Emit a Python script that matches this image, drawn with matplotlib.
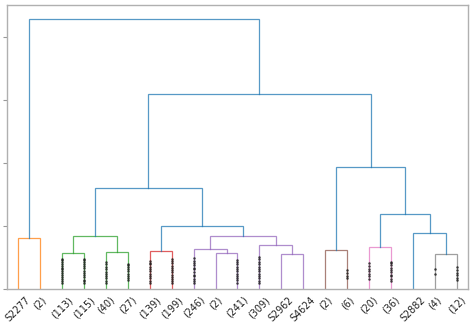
import matplotlib
matplotlib.use("Agg")
import matplotlib.pyplot as plt

# Leaf labels, left to right (singletons by id, truncated clusters by size)
leaf_labels = ["S2277", "(2)", "(113)", "(115)", "(40)", "(27)", "(139)", "(199)",
               "(246)", "(2)", "(241)", "(309)", "S2962", "S4624", "(2)", "(6)",
               "(20)", "(36)", "S2882", "(4)", "(12)"]

# Merges: ids 21.. in order; children refer to leaf index or earlier merge id
merge_left = [0, 2, 4, 22, 6, 9, 8, 12, 11, 27, 25, 24, 14, 16, 19, 18, 34, 33, 32, 21]
merge_right = [1, 3, 5, 23, 7, 10, 26, 13, 28, 29, 30, 31, 15, 17, 20, 35, 36, 37, 38, 39]
merge_height = [0.81, 0.57, 0.59, 0.84, 0.60, 0.57, 0.63, 0.55, 0.70, 0.84,
                1.00, 1.60, 0.62, 0.67, 0.56, 0.89, 1.19, 1.94, 3.10, 4.29]
merge_color = ["C1", "C2", "C2", "C2", "C3", "C4", "C4", "C4", "C4", "C4",
               "C0", "C0", "C5", "C6", "C7", "C0", "C0", "C0", "C0", "C0"]

# Heights of merges hidden inside each truncated leaf
contracted = {
    2: [0.10, 0.13, 0.16, 0.19, 0.22, 0.25, 0.28, 0.31, 0.34, 0.37, 0.40, 0.43, 0.46, 0.48],
    3: [0.10, 0.12, 0.15, 0.19, 0.22, 0.26, 0.29, 0.33, 0.36, 0.40, 0.43, 0.46, 0.48],
    4: [0.10, 0.13, 0.17, 0.20, 0.24, 0.27, 0.31, 0.35, 0.39, 0.43],
    5: [0.14, 0.17, 0.21, 0.24, 0.28, 0.31, 0.35, 0.38, 0.40],
    6: [0.10, 0.13, 0.17, 0.20, 0.24, 0.28, 0.32, 0.35, 0.39, 0.42, 0.44],
    7: [0.10, 0.12, 0.16, 0.19, 0.23, 0.27, 0.30, 0.34, 0.37, 0.41, 0.45, 0.48],
    8: [0.10, 0.13, 0.16, 0.20, 0.23, 0.27, 0.31, 0.34, 0.38, 0.42, 0.45, 0.49],
    10: [0.10, 0.14, 0.17, 0.21, 0.24, 0.28, 0.32, 0.35, 0.39, 0.43, 0.46],
    11: [0.10, 0.13, 0.17, 0.20, 0.24, 0.28, 0.31, 0.35, 0.39, 0.43, 0.47, 0.51],
    15: [0.17, 0.21, 0.25, 0.30],
    16: [0.16, 0.20, 0.24, 0.28, 0.32, 0.36, 0.41],
    17: [0.13, 0.16, 0.20, 0.23, 0.27, 0.30, 0.34, 0.38, 0.41, 0.43],
    19: [0.24, 0.32],
    20: [0.14, 0.18, 0.22, 0.26, 0.30, 0.35],
}

fig = plt.figure(figsize=(4.74, 3.24), dpi=100)
ax = fig.add_axes([0.0148, 0.108, 0.9725, 0.8768])

n_leaves = len(leaf_labels)
pos_x = {i: 5 + 10 * i for i in range(n_leaves)}
pos_y = {i: 0.0 for i in range(n_leaves)}

for k, (a, b, h, c) in enumerate(zip(merge_left, merge_right, merge_height, merge_color)):
    node = n_leaves + k
    xa, xb = pos_x[a], pos_x[b]
    ax.plot([xa, xa, xb, xb], [pos_y[a], h, h, pos_y[b]], color=c, lw=0.9,
            alpha=0.75, solid_joinstyle="miter")
    pos_x[node] = (xa + xb) / 2
    pos_y[node] = h

for leaf, heights in contracted.items():
    ax.plot([pos_x[leaf]] * len(heights), heights, ".", color="#1a1a1a",
            markersize=3.6, alpha=0.8, markeredgewidth=0)

ax.set_xlim(0, 10 * n_leaves)
ax.set_ylim(0, 4.51)
ax.set_xticks([pos_x[i] for i in range(n_leaves)])
ax.set_xticklabels(leaf_labels, rotation=45, ha="center",
                   fontsize=6.9, color="#222222")
ax.set_yticks([0, 1, 2, 3, 4])
ax.set_yticklabels([])
ax.tick_params(axis="x", length=0, pad=4)
ax.tick_params(axis="y", length=3, color="#999999", width=0.8)
for s in ax.spines.values():
    s.set_color("#b0b0b0")
    s.set_linewidth(1.0)

fig.savefig("out.png", dpi=100)
